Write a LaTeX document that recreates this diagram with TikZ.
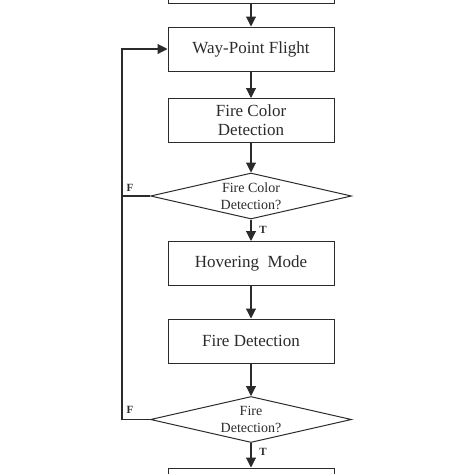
\documentclass[tikz,border=0pt]{standalone}
\usepackage{fontspec}
\setmainfont{Liberation Serif}
\usetikzlibrary{arrows.meta,shapes.geometric}
\definecolor{chartink}{HTML}{2B2B2B}

\begin{document}
\begin{tikzpicture}[
  x=1pt,
  y=-1pt,
  every node/.style={chartink},
  stepbox/.style={draw=chartink, line width=1pt, rectangle,
                  minimum width=166pt, minimum height=44pt,
                  inner sep=0pt, align=center, font=\fontsize{17}{19}\selectfont},
  decision/.style={draw=chartink, line width=1pt, diamond, shape aspect=4.4,
                   minimum width=201pt, minimum height=46pt,
                   inner sep=0pt, align=center, font=\fontsize{14}{17}\selectfont},
  flow/.style={chartink, line width=1.1pt, -{Triangle[length=10pt, width=10pt]}},
  link/.style={chartink, line width=1.1pt},
  branch/.style={font=\bfseries\fontsize{11}{13}\selectfont, inner sep=0pt}
]
  \useasboundingbox (0,0) rectangle (474,474);

  % ---- the steps, top to bottom ----------------------------------------
  \node[stepbox] (start)  at (251,-19)   {};
  \node[stepbox] (wp)     at (251,49)    {Way-Point Flight};
  \node[stepbox] (colour) at (251,120.5) {Fire Color\\Detection};
  \node[decision] (askcolour) at (251,196) {Fire Color\\Detection?};
  \node[stepbox] (hover)  at (251,263.5) {Hovering\ \ Mode};
  \node[stepbox] (fire)   at (251,341)   {Fire Detection};
  \node[decision] (askfire) at (251,419.5) {Fire\\Detection?};
  \node[stepbox] (next)   at (251,490)   {};

  % ---- main flow ---------------------------------------------------------
  \draw[flow] (start) -- (wp);
  \draw[flow] (wp) -- (colour);
  \draw[flow] (colour) -- (askcolour);
  \draw[flow] (askcolour) -- (hover);
  \draw[flow] (hover) -- (fire);
  \draw[flow] (fire) -- (askfire);
  \draw[flow] (askfire) -- (next);

  % ---- the false branches run back to the way-point flight ---------------
  \coordinate (back) at (122,0);
  \draw[flow] (askfire.west) -- (askfire.west -| back) |- (wp.west);
  \draw[link] (askcolour.west) -- (askcolour.west -| back);

  % ---- branch labels -----------------------------------------------------
  \node[branch] (fcolour) at (130,188) {F};
  \node[branch] (tcolour) at (263,230) {T};
  \node[branch] (ffire)   at (130,410) {F};
  \node[branch] (tfire)   at (263,452) {T};
\end{tikzpicture}
\end{document}
